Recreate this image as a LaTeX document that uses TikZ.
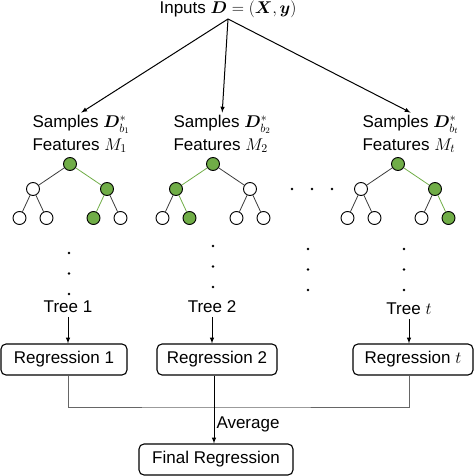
\RequirePackage{fix-cm}
\documentclass[tikz,border=0pt]{standalone}
\usepackage{amsmath,amssymb,bm}
\usepackage{fontspec}
\setmainfont{Liberation Sans}
\usepackage{tikz}
\usetikzlibrary{positioning}
\definecolor{leafgreen}{RGB}{112,173,71}
\definecolor{darkedge}{RGB}{60,60,60}
\tikzset{
  tnode/.style={circle,draw=black,line width=0.9pt,minimum size=13pt,inner sep=0pt},
  tedge/.style={line width=0.8pt},
  regbox/.style={draw,rounded corners=5pt,line width=1.1pt,minimum height=31pt,inner sep=2pt},
  sumline/.style={draw=black!60,line width=0.8pt},
}

\begin{document}
\begin{tikzpicture}[x=1pt,y=-1pt,>=latex,line width=1pt,font=\fontsize{17}{23}\selectfont]
    \useasboundingbox (0,0) rectangle (474,476);
    \node[inner sep=1pt] (in) at (228,9) {Inputs $\bm{D}=(\bm{X},\bm{y})$};
    \node[align=left,anchor=west,inner sep=2pt] (s1) at (30,134) {Samples $\bm{D}^{*}_{b_1}$\\Features $M_1$};
    \node[align=left,anchor=west,inner sep=2pt] (s2) at (171,134) {Samples $\bm{D}^{*}_{b_2}$\\Features $M_2$};
    \node[align=left,anchor=west,inner sep=2pt] (st) at (360,134) {Samples $\bm{D}^{*}_{b_t}$\\Features $M_t$};
    \draw[->] (in.south) to (s1.north);
    \draw[->] (in.south) to (s2.north);
    \draw[->] (in.south) to (st.north);
    \foreach \n/\x/\side/\leaf in {1/70/1/-1,2/213/-1/1,t/398/1/1} {
      \node[tnode,fill=leafgreen] (r\n) at (\x,164) {};
      \foreach \k in {-1,1} {
        \ifnum\k=\side\relax\def\kidfill{leafgreen}\else\def\kidfill{white}\fi
        \ifnum\k=\side\relax\def\kidedge{leafgreen}\else\def\kidedge{darkedge}\fi
        \node[tnode,fill=\kidfill] (c\n\k) at ({\x+(\k)*37},189) {};
        \draw[tedge,draw=\kidedge] (r\n) to (c\n\k);
        \foreach \j in {-1,1} {
          \def\leaffill{white}\def\leafedge{darkedge}
          \ifnum\k=\side\relax\ifnum\j=\leaf\relax\def\leaffill{leafgreen}\def\leafedge{leafgreen}\fi\fi
          \node[tnode,fill=\leaffill] (l\n\k\j) at ({\x+(\k)*37+(\j)*13.5},218) {};
          \draw[tedge,draw=\leafedge] (c\n\k) to (l\n\k\j);
        }
      }
    }
    \foreach \x in {292,312,332}
      \fill (\x,189) circle (1.4pt);
    \foreach \x/\y in {69/253,213/246,308/249,404/249}
      \foreach \k in {0,1,2}
        \fill (\x,{\y+\k*20.5}) circle (1.4pt);
    \node (tr1) at (68,307) {Tree 1};
    \node (tr2) at (212,307) {Tree 2};
    \node (trt) at (409,309) {Tree $t$};
    \node[regbox,minimum width=126pt] (reg1) at (64,359.5) {Regression 1};
    \node[regbox,minimum width=120pt] (reg2) at (217,359.5) {Regression 2};
    \node[regbox,minimum width=120pt] (regt) at (413,359.5) {Regression $t$};
    \node[regbox,minimum width=154pt] (final) at (216,459.5) {Final Regression};
    \draw[->] (tr1.south) to (tr1.south |- reg1.north);
    \draw[->] (tr2.south) to (tr2.south |- reg2.north);
    \draw[->] (trt.south) to (trt.south |- regt.north);
    \coordinate (avg) at (214,407);
    \draw[sumline] (tr1.south |- reg1.south) |- (avg) -| (trt.south |- regt.south);
    \draw[->] (avg |- reg2.south) to node[right,pos=0.72,inner sep=2pt] {Average} (avg |- final.north);
  \end{tikzpicture}
\end{document}
